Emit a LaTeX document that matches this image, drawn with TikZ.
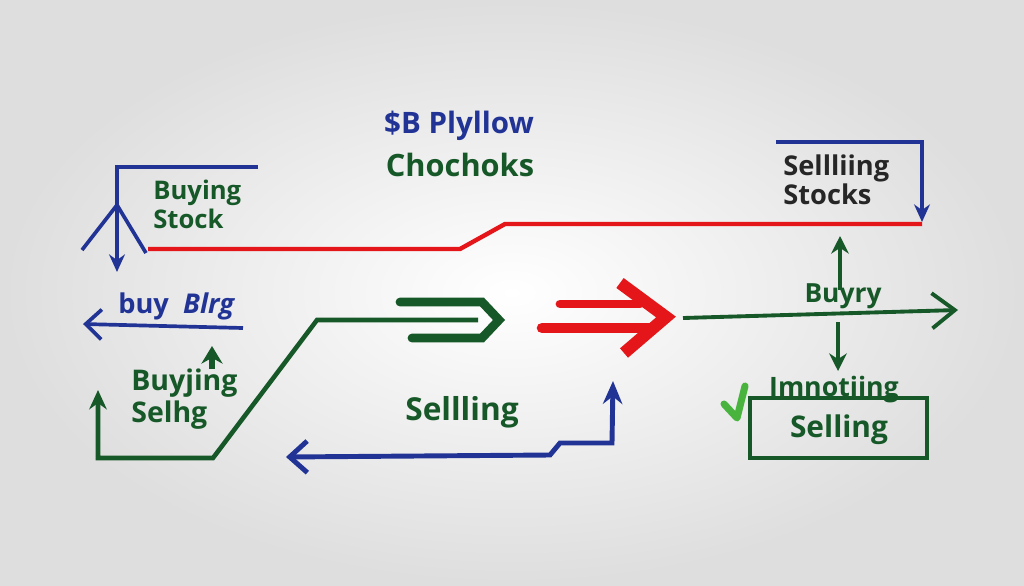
\documentclass[tikz,border=0pt]{standalone}
\usepackage{fontspec}
\setmainfont{Open Sans}
\usetikzlibrary{
	arrows.meta,
	calc,
	positioning
}
\definecolor{FlowBlue}{RGB}{33,52,150}
\definecolor{FlowGreen}{RGB}{22,88,40}
\definecolor{FlowRed}{RGB}{228,22,26}
\definecolor{CheckGreen}{RGB}{72,180,62}

\tikzset{
	lbl/.style={font=\bfseries, inner sep=0pt, align=left},
	blueline/.style={FlowBlue, line width=2.1pt},
	greenline/.style={FlowGreen, line width=2.6pt},
	redline/.style={FlowRed, line width=2.5pt}
}

\begin{document}
\begin{tikzpicture}[x=0.02cm, y=-0.02cm]
			\fill[inner color=white, outer color=gray!26] (0,0) rectangle (1024,585);
			\useasboundingbox (0,0) rectangle (1024,585);

			% top titles
			\node[lbl, FlowBlue, font=\bfseries\fontsize{16.8}{19}\selectfont, anchor=base] (title) at (459,133) {\$B Plyllow};
			\node[lbl, FlowGreen, font=\bfseries\fontsize{17.5}{19}\selectfont, anchor=base] (chochoks) at (460,176) {Chochoks};

			% buying stock corner
			\coordinate (bsTop) at (258,167);
			\coordinate (bsCorner) at (117,167);
			\coordinate (bsFoot) at (117,272);
			\coordinate (tentL) at (82,250);
			\coordinate (tentTop) at (117,205);
			\coordinate (tentR) at (146,253);
			\draw[blueline, -{Stealth[length=10pt, width=9pt]}] (bsTop) -- (bsCorner) -- (bsFoot);
			\draw[blueline] (tentL) -- (tentTop) -- (tentR);
			\node[lbl, FlowGreen, font=\bfseries\fontsize{14.6}{16}\selectfont, anchor=base west] (buyStock) at (153,228) {Buying\\Stock};

			% red line
			\coordinate (redA) at (148,249);
			\coordinate (redB) at (460,249);
			\coordinate (redC) at (505,224);
			\coordinate (redD) at (922,224);
			\draw[redline] (redA) -- (redB) -- (redC) -- (redD);

			% selling stocks corner
			\coordinate (ssLeft) at (776,142);
			\coordinate (ssCorner) at (922,142);
			\coordinate (ssFoot) at (922,222);
			\draw[blueline, -{Stealth[length=10pt, width=9pt]}] (ssLeft) -- (ssCorner) -- (ssFoot);
			\node[lbl, black!85, font=\bfseries\fontsize{15.5}{16.5}\selectfont, anchor=base west] (sellStocks) at (783,204) {Sellliing\\Stocks};

			% buy arrow
			\coordinate (buyR) at (243,328);
			\coordinate (buyL) at (83,324);
			\draw[blueline, -{Straight Barb[length=9pt, width=17pt]}] (buyR) -- (buyL);
			\node[lbl, FlowBlue, font=\bfseries\fontsize{15.5}{16}\selectfont, anchor=base west] (buyBlrg) at (118,313) {buy\ \ \textit{Blrg}};

			% buying selling (left)
			\coordinate (smallFoot) at (212,369);
			\coordinate (smallTip) at (212,346);
			\draw[greenline, line width=3.5pt, -{Stealth[length=10pt, width=12pt]}] (smallFoot) -- (smallTip);
			\node[lbl, FlowGreen, font=\bfseries\fontsize{16.2}{18}\selectfont, anchor=base west] (buySel) at (131,422) {Buyjing\\Selhg};

			\coordinate (gTip) at (98,390);
			\coordinate (gCorner) at (98,458);
			\coordinate (gFoot) at (213,458);
			\coordinate (gKnee) at (317,320);
			\coordinate (gEnd) at (478,320);
			\draw[greenline, {Stealth[length=11pt, width=10pt]}-] (gTip) -- (gCorner) -- (gFoot) -- (gKnee) -- (gEnd);
			\draw[greenline, line width=5pt, line cap=round, line join=miter] (400,302) -- (482,302) -- (499,320) -- (482,338) -- (412,338);

			% red double arrow
			\draw[FlowRed, line width=5pt, line cap=round] (560,304) -- (640,304);
			\draw[FlowRed, line width=6pt, line cap=round] (542,328) -- (650,328);
			\draw[FlowRed, line width=7pt, line join=miter] (620,283) -- (666,317) -- (624,353);

			% selling middle
			\node[lbl, FlowGreen, font=\bfseries\fontsize{18}{20}\selectfont] (sellMid) at (462,412) {Sellling};

			% blue return arrow
			\coordinate (blueL) at (286,457);
			\coordinate (blueA) at (550,455);
			\coordinate (blueB) at (560,443);
			\coordinate (blueC) at (612,443);
			\coordinate (blueTip) at (613,381);
			\draw[blueline, line width=2.8pt, {Straight Barb[length=10pt, width=18pt]}-{Stealth[length=13pt, width=11pt]}] (blueL) -- (blueA) -- (blueB) -- (blueC) -- (blueTip);

			% right part
			\coordinate (rightL) at (683,318);
			\coordinate (rightR) at (958,310);
			\draw[greenline, line width=2.2pt, -{Straight Barb[length=13pt, width=20pt]}] (rightL) -- (rightR);
			\node[lbl, FlowGreen, font=\bfseries\fontsize{15}{17}\selectfont, anchor=base] (buyry) at (843,302) {Buyry};
			\coordinate (upFoot) at (840,290);
			\coordinate (upTip) at (840,236);
			\draw[greenline, -{Stealth[length=10pt, width=10pt]}] (upFoot) -- (upTip);
			\coordinate (downTop) at (838,322);
			\coordinate (downTip) at (838,371);
			\draw[greenline, -{Stealth[length=10pt, width=10pt]}] (downTop) -- (downTip);

			\draw[greenline] (750,398) rectangle (927,458);
			\draw[CheckGreen, line width=4pt, line cap=round, line join=round] (724,404) -- (737,418) -- (745,386);
			\node[lbl, FlowGreen, font=\bfseries\fontsize{15.2}{17}\selectfont, anchor=base] (imnot) at (834,396) {Imnotiing};
			\node[lbl, FlowGreen, font=\bfseries\fontsize{17}{19}\selectfont] (sellBox) at (839,430) {Selling};
		\end{tikzpicture}
\end{document}
